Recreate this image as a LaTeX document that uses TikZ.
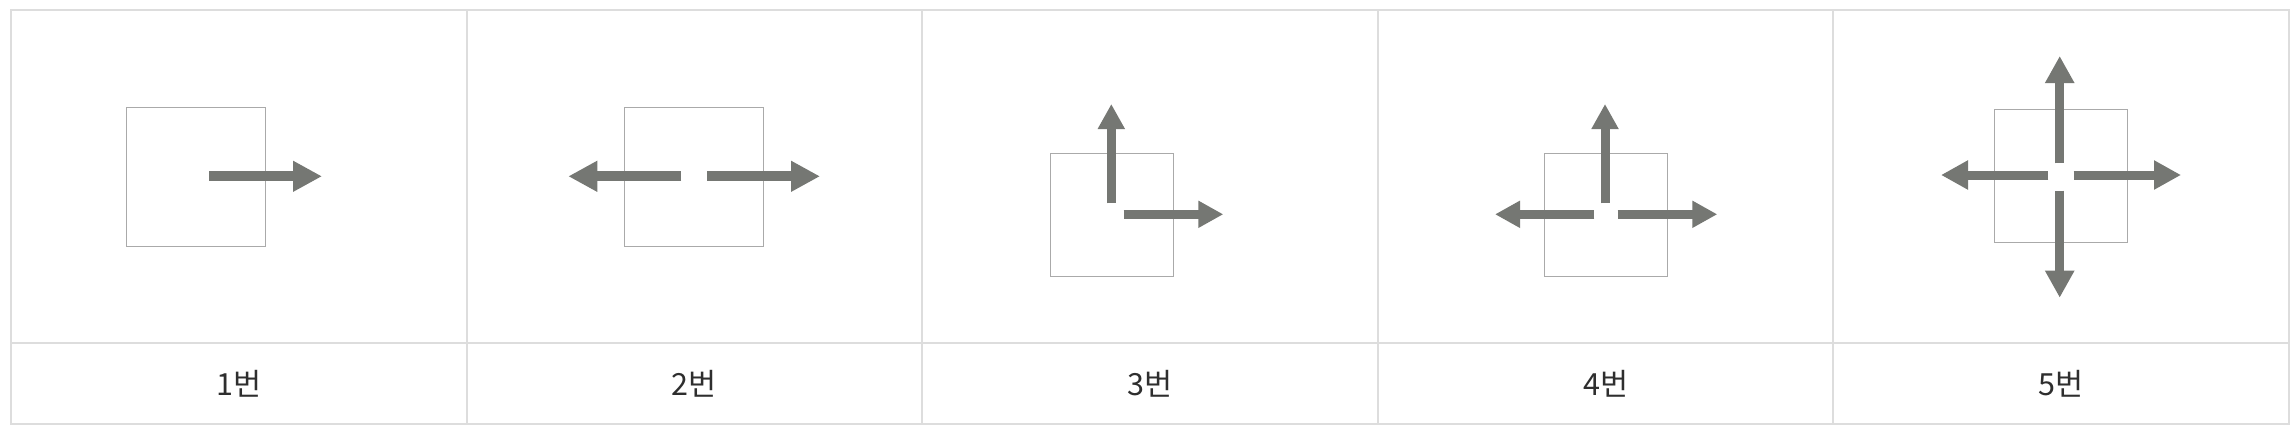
\documentclass[tikz,border=0pt]{standalone}
\usepackage{fontspec}
\setmainfont{Noto Sans CJK KR}
\usetikzlibrary{arrows.meta}
\definecolor{gridc}{HTML}{DDDDDD}
\definecolor{boxc}{HTML}{AAAAAA}
\definecolor{arrc}{HTML}{757773}
\definecolor{txtc}{HTML}{2E2E2E}
\tikzset{
  gridline/.style={draw=gridc, line width=2pt},
  boxsq/.style={draw=boxc, line width=1pt, minimum size=#1, inner sep=0pt, outer sep=0pt},
  bigarr/.style={draw=arrc, line width=10pt, -{Triangle[length=29pt,width=29pt]}},
  smallarr/.style={draw=arrc, line width=9pt, -{Triangle[length=25pt,width=25.5pt]}},
  midarr/.style={draw=arrc, line width=9pt, -{Triangle[length=27pt,width=27.5pt]}},
  lbl/.style={text=txtc, font=\fontsize{30.5}{34}\selectfont, inner sep=0pt}
}
\begin{document}
\begin{tikzpicture}[x=1pt,y=-1pt]
\useasboundingbox (0,0) rectangle (2296,434);
\fill[white] (0,0) rectangle (2296,434);
% table
\draw[gridline] (11,10) rectangle (2289,424);
\draw[gridline] (11,343.3) -- (2289,343.3);
\foreach \x in {466.6,922.2,1377.8,1833.4} \draw[gridline] (\x,10) -- (\x,424);
% labels
\node[lbl] (l1) at (238.8,383.5) {1번};
\node[lbl] (l2) at (694.4,383.5) {2번};
\node[lbl] (l3) at (1150,383.5) {3번};
\node[lbl] (l4) at (1605.6,383.5) {4번};
\node[lbl] (l5) at (2061.2,383.5) {5번};
% squares
\node[boxsq=139pt] (s1) at (196,176.8) {};
\node[boxsq=139pt] (s2) at (693.7,176.7) {};
\node[boxsq=123pt] (s3) at (1112,214.7) {};
\node[boxsq=123pt] (s4) at (1606,214.7) {};
\node[boxsq=133pt] (s5) at (2061,175.7) {};
% panel 1
\coordinate (a1s) at (209,176.3);
\coordinate (a1e) at (322,176.3);
\draw[bigarr] (a1s) -- (a1e);
% panel 2
\coordinate (a2ls) at (681,176.3);
\coordinate (a2le) at (568.3,176.3);
\coordinate (a2rs) at (707,176.3);
\coordinate (a2re) at (820,176.3);
\draw[bigarr] (a2ls) -- (a2le);
\draw[bigarr] (a2rs) -- (a2re);
% panel 3
\coordinate (a3us) at (1111.3,203.3);
\coordinate (a3ue) at (1111.3,104);
\coordinate (a3rs) at (1123.7,214.3);
\coordinate (a3re) at (1223.3,214.3);
\draw[smallarr] (a3us) -- (a3ue);
\draw[smallarr] (a3rs) -- (a3re);
% panel 4
\coordinate (a4us) at (1605,203.3);
\coordinate (a4ue) at (1605,104);
\coordinate (a4ls) at (1594.3,214.3);
\coordinate (a4le) at (1495,214.3);
\coordinate (a4rs) at (1617.7,214.3);
\coordinate (a4re) at (1717.3,214.3);
\draw[smallarr] (a4us) -- (a4ue);
\draw[smallarr] (a4ls) -- (a4le);
\draw[smallarr] (a4rs) -- (a4re);
% panel 5
\coordinate (a5us) at (2059.7,163.3);
\coordinate (a5ue) at (2059.7,56);
\coordinate (a5ds) at (2059.7,190.7);
\coordinate (a5de) at (2059.7,297.7);
\coordinate (a5ls) at (2048.3,175);
\coordinate (a5le) at (1941,175);
\coordinate (a5rs) at (2073.7,175);
\coordinate (a5re) at (2181,175);
\draw[midarr] (a5us) -- (a5ue);
\draw[midarr] (a5ds) -- (a5de);
\draw[midarr] (a5ls) -- (a5le);
\draw[midarr] (a5rs) -- (a5re);
\end{tikzpicture}
\end{document}
